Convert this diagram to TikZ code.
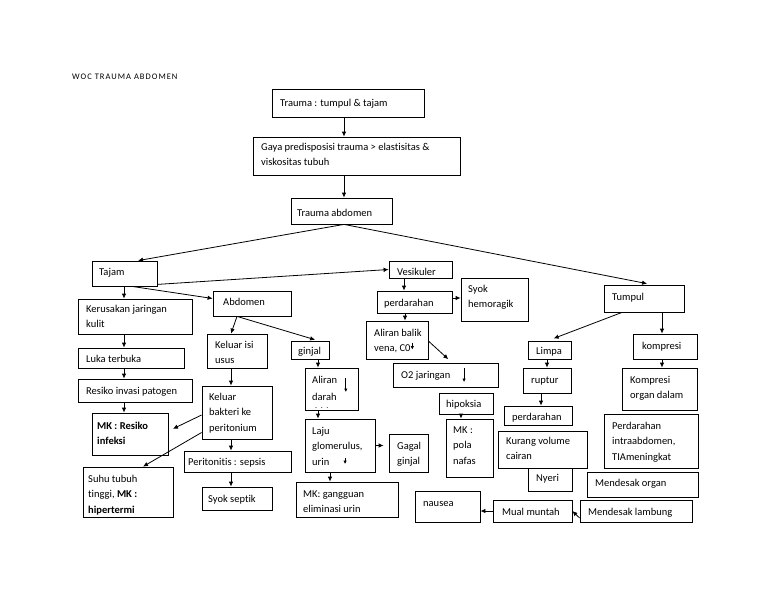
\documentclass[tikz,border=0pt]{standalone}
\usepackage{fontspec}
\setmainfont[Ligatures={NoCommon}]{Carlito}
\newfontfamily\titlefont[LetterSpace=12,Ligatures={NoCommon}]{Carlito}
\usetikzlibrary{arrows.meta,fit}
\newcommand\dnar[2]{\tikz[baseline=0pt]\draw[line width=0.7pt,-{Latex[length=3.5pt,width=3.5pt]}] (0pt,#1) -- (0pt,#2);}
\newcommand\bx[8]{\node[box, fit={(#2,#3)(#4,#5)}] (#1) {};\node[txt] (#1-t) at (#6,#7) {\strut #8};}
\begin{document}
\begin{tikzpicture}[x=1pt,y=-1pt,
  box/.style={draw, fill=white, line width=0.8pt, inner sep=0pt},
  txt/.style={inner sep=0pt, anchor=north west, align=left, font=\fontsize{10.5}{15.5}\selectfont},
  arr/.style={line width=0.8pt, -{Latex[length=5pt,width=4.5pt]}}]
\fill[white] (0,0) rectangle (768,594);
\useasboundingbox (0,0) rectangle (768,594);
\node[inner sep=0pt, anchor=west, font=\titlefont\fontsize{8.5}{10}\selectfont] (title) at (72,77) {WOC TRAUMA ABDOMEN};
% top chain
\bx{trauma}{272}{89}{424}{117}{280}{95}{Trauma : tumpul \& tajam}
\bx{gaya}{253}{137}{460}{175}{261}{139}{Gaya predisposisi trauma > elastisitas \&\\viskositas tubuh}
\bx{tabd}{291}{198}{392}{224}{297}{205}{Trauma abdomen}
% left branch
\bx{tajam}{92}{261}{157}{286}{99}{264}{Tajam}
\bx{keru}{78}{299}{192}{334}{86}{301}{Kerusakan jaringan\\kulit}
\bx{luka}{78}{348}{184}{368}{86}{351}{Luka terbuka}
\bx{resiko}{78}{379}{192}{402}{86}{383}{Resiko invasi patogen}
\bx{mkinf}{92}{413}{168}{455}{97}{418}{\textbf{MK : Resiko}\\\textbf{infeksi}}
\bx{suhu}{83}{467}{173}{517}{88}{471}{Suhu tubuh\\tinggi, \textbf{MK :}\\\textbf{hipertermi}}
\bx{abdomen}{213}{291}{291}{316}{223}{294}{Abdomen}
\bx{kisi}{207}{334}{267}{368}{215}{337}{Keluar isi\\usus}
\bx{kbak}{202}{386}{272}{439}{209}{389}{Keluar\\bakteri ke\\peritonium}
\bx{perit}{184}{451}{291}{472}{188}{454}{Peritonitis : sepsis}
\bx{syoks}{202}{487}{272}{510}{208}{491}{Syok septik}
\bx{ginjal}{291}{341}{329}{359}{298}{343}{ginjal}
\bx{alir}{305}{368}{358}{410}{312}{372}{Aliran\hspace{7pt}\dnar{5pt}{-9pt}\\darah}
\node[inner sep=0pt, anchor=base west, font=\fontsize{8}{8}\selectfont] (alir-d) at (315,408) {.\ \ .\ \ .};
\bx{laju}{305}{419}{375}{472}{312}{423}{Laju\\glomerulus,\\urin\hspace{14pt}\dnar{7pt}{1pt}}
\bx{gagal}{389}{434}{428}{472}{397}{438}{Gagal\\ginjal}
\bx{mkg}{296}{482}{398}{517}{303}{486}{MK: gangguan\\eliminasi urin}
% middle branch
\bx{vesik}{389}{261}{452}{278}{397}{264}{Vesikuler}
\bx{perd1}{377}{291}{452}{313}{384}{295}{perdarahan}
\bx{syokh}{461}{278}{528}{321}{468}{281}{Syok\\hemoragik}
\bx{alb}{366}{321}{428}{359}{374}{325}{Aliran balik\\vena, C0\dnar{9pt}{2pt}}
\bx{o2}{393}{363}{498}{387}{401}{367}{O2 jaringan\hspace{12pt}\dnar{10pt}{-4pt}}
\bx{hipo}{439}{393}{493}{414}{446}{396}{hipoksia}
\bx{mkp}{446}{419}{493}{477}{453}{422}{MK :\\pola\\nafas}
% right branch
\bx{tumpul}{604}{285}{684}{312}{612}{289}{Tumpul}
\bx{limpa}{528}{341}{571}{359}{536}{343}{Limpa}
\bx{rupt}{523}{368}{571}{393}{531}{372}{ruptur}
\bx{perd2}{504}{406}{572}{425}{512}{409}{perdarahan}
\bx{nyeri}{528}{455}{572}{491}{536}{470}{Nyeri}
\bx{kurang}{498}{431}{587}{468}{506}{433}{Kurang volume\\cairan}
\bx{komp}{633}{334}{697}{359}{642}{338}{kompresi}
\bx{kod}{622}{368}{697}{410}{630}{372}{Kompresi\\organ dalam}
\bx{pintra}{604}{414}{698}{468}{612}{418}{Perdarahan\\intraabdomen,\\TIAmeningkat}
\bx{morg}{587}{472}{698}{497}{595}{475}{Mendesak organ}
\bx{nausea}{415}{491}{480}{522}{423}{495}{nausea}
\bx{mual}{493}{500}{572}{522}{502}{504}{Mual muntah}
\bx{lamb}{580}{500}{692}{522}{588}{504}{Mendesak lambung}
% connectors
\draw[arr] (trauma.south -| 344,0) -- (gaya.north -| 344,0);
\draw[arr] (gaya.south -| 344,0) -- (tabd.north -| 344,0);
\draw[arr] (tabd.south -| 344,0) -- (tajam.north -| 138,0);
\draw[arr, shorten >=5pt] (tabd.south -| 344,0) -- (tumpul.north -| 652,0);
\draw[arr] ([yshift=2pt]tajam.south east) -- (vesik.west);
\draw[arr] (tajam.south -| 132,0) -- ([yshift=5pt]abdomen.west);
\draw[arr] (tajam.south -| 124,0) -- (keru.north -| 124,0);
\draw[arr] (keru.south -| 124,0) -- (luka.north -| 124,0);
\draw[arr] (luka.south -| 124,0) -- (resiko.north -| 124,0);
\draw[arr] (resiko.south -| 124,0) -- (mkinf.north -| 124,0);
\draw[arr] (abdomen.south -| 237,0) -- (kisi.north -| 231,0);
\draw[arr, shorten >=3pt] (abdomen.south -| 237,0) -- (ginjal.north -| 318,0);
\draw[arr] (kisi.south -| 231,0) -- (kbak.north -| 231,0);
\draw[arr, shorten >=5pt] ([yshift=-2.5pt]kbak.west) -- ([yshift=3pt]mkinf.east);
\draw[arr] ([yshift=-20pt]kbak.west) -- (suhu.north -| 143,0);
\draw[arr] (kbak.south -| 231,0) -- (perit.north -| 231,0);
\draw[arr] (perit.south -| 231,0) -- (syoks.north -| 231,0);
\draw[arr] (ginjal.south -| 318,0) -- (alir.north -| 318,0);
\draw[arr] (alir.south -| 318,0) -- (laju.north -| 318,0);
\draw[arr, shorten >=5pt] (laju.east) -- (gagal.west |- laju.east);
\draw[arr] (laju.south -| 330,0) -- (mkg.north -| 330,0);
\draw[arr] (vesik.south -| 404,0) -- (perd1.north -| 404,0);
\coordinate (p1) at ([yshift=4pt]perd1.east);
\draw[arr] (p1) -- (p1 -| syokh.west);
\draw[arr] (perd1.south -| 405,0) -- (alb.north -| 405,0);
\draw[arr, shorten >=5pt] ([yshift=-1pt]alb.east) -- (o2.north -| 452,0);
\draw[arr] (hipo.south -| 461,0) -- (mkp.north -| 461,0);
\draw[arr, shorten >=6pt] (tumpul.south -| 622,0) -- (limpa.north -| 548,0);
\draw[arr] (tumpul.south -| 662,0) -- (komp.north -| 662,0);
\draw[arr] (limpa.south -| 547,0) -- (rupt.north -| 547,0);
\draw[arr] (rupt.south -| 541,0) -- (perd2.north -| 541,0);
\draw[arr] (komp.south -| 662,0) -- (kod.north -| 662,0);
\draw[arr] (mual.west) -- (nausea.east |- mual.west);
\draw[arr] ([yshift=-7pt]lamb.west) -- (mual.east);
\end{tikzpicture}
\end{document}
